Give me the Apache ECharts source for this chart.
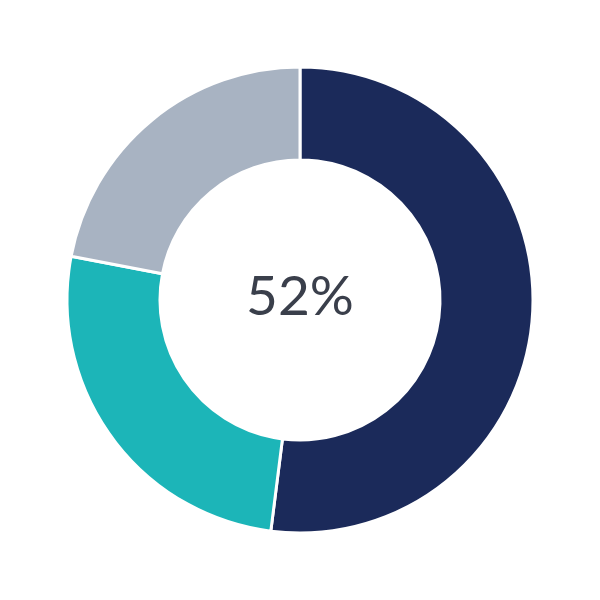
<!DOCTYPE html>
<html>
<head>
<meta charset="utf-8">
<script src="https://cdn.jsdelivr.net/npm/echarts@6/dist/echarts.min.js"></script>
<style>
html,body{margin:0;padding:0;background:#fff;}
#chart{width:600px;height:600px;}
</style>
</head>
<body>
<div id="chart"></div>
<script>
const categories = ["A", "B", "C"];
const values = [52, 26, 22];
const colors = ["#1b2a5a", "#1cb5b8", "#a8b3c2"];
const centerLabel = "52%";

const chart = echarts.init(document.getElementById('chart'), null, {renderer: 'canvas'});
chart.setOption({
  animation: false,
  backgroundColor: '#ffffff',
  graphic: [{
    type: 'text',
    x: 300,
    y: 297,
    style: {
      text: centerLabel,
      fontFamily: 'Lato',
      fontSize: 55,
      fontWeight: 'normal',
      fill: '#3a3f4b',
      align: 'center',
      verticalAlign: 'middle'
    },
    z: 10
  }],
  series: [{
    type: 'pie',
    center: [300, 300],
    radius: [140, 233],
    startAngle: 90,
    clockwise: true,
    label: {show: false},
    labelLine: {show: false},
    itemStyle: {borderColor: '#ffffff', borderWidth: 3},
    emphasis: {disabled: true},
    data: categories.map((c, i) => ({name: c, value: values[i], itemStyle: {color: colors[i]}}))
  }]
});
</script>
</body>
</html>
